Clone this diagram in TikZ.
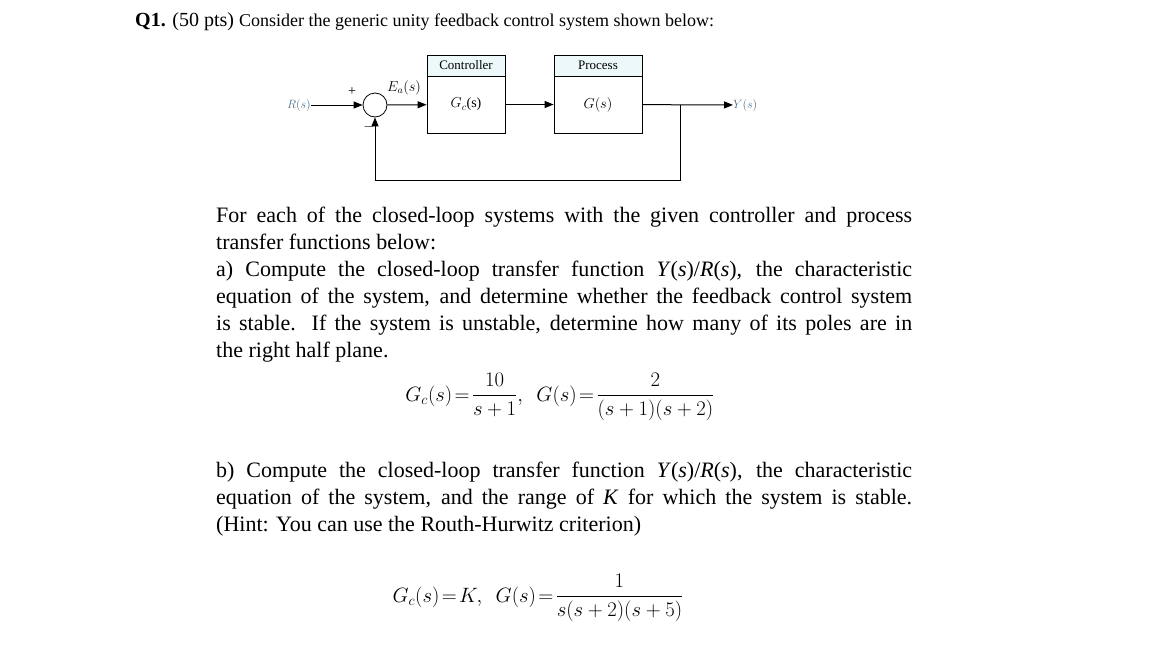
\documentclass[tikz,border=0pt]{standalone}
\usepackage{amsmath}
\usepackage{fontspec}
\setmainfont{Liberation Serif}
\usetikzlibrary{arrows.meta}
\definecolor{sig}{RGB}{70,110,140}
\definecolor{hdr}{RGB}{236,248,250}
\tikzset{
  every node/.style={inner sep=0pt},
  jline/.style={anchor=north west,text width=#1pt,align=justify,font=\fontsize{22}{26}\selectfont},
  pline/.style={anchor=north west,font=\fontsize{22}{26}\selectfont},
  wire/.style={line width=1pt},
  arr/.style={wire,-{Triangle[length=9pt,width=7pt]}},
  blk/.style={draw,line width=0.8pt},
  eq/.style={font=\fontsize{20}{24}\selectfont},
}
\newcommand{\jl}[1]{#1\parfillskip=0pt\par}
\begin{document}
\begin{tikzpicture}[x=1pt,y=-1pt]
\useasboundingbox (0,0) rectangle (1152,648);
\node[anchor=west] (title) at (135,22) {\fontsize{20}{24}\selectfont\textbf{Q1.} (50 pts) \fontsize{18}{20}\selectfont Consider the generic unity feedback control system shown below:};
\node[blk,fill=hdr,minimum width=78pt,minimum height=21pt] (ch) at (466,65.5) {\fontsize{13}{14}\selectfont Controller};
\node[blk,minimum width=78pt,minimum height=57pt] (cb) at (466,104.5) {\fontsize{14}{14}\selectfont $G_c$(s)};
\node[blk,fill=hdr,minimum width=88pt,minimum height=21pt] (ph) at (598,65.5) {\fontsize{13}{14}\selectfont Process};
\node[blk,minimum width=88pt,minimum height=57pt] (pb) at (598,104.5) {\fontsize{14}{14}\selectfont $G(s)$};
\node[draw,circle,line width=0.8pt,minimum size=24pt] (sum) at (375,105) {};
\node[text=sig,anchor=east] (R) at (311,105) {\fontsize{12}{13}\selectfont $R(s)$};
\node[text=sig,anchor=west] (Y) at (733,105) {\fontsize{12}{13}\selectfont $Y(s)$};
\node (plus) at (352,92) {\fontsize{14}{14}\selectfont +};
\node (minus) at (369,127) {\fontsize{14}{14}\selectfont $-$};
\node (ea) at (404,88) {\fontsize{14}{14}\selectfont $E_a(s)$};
\coordinate (br) at (680,105);
\coordinate (bl) at (680,180);
\coordinate (bb) at (375,180);
\draw[arr] (R) -- (sum);
\draw[arr] (sum) -- (cb);
\draw[arr] (cb) -- (pb);
\draw[arr] (pb) -- (Y);
\draw[wire] (br) -- (bl) -- (bb);
\draw[arr] (bb) -- (sum);
\node[jline=696] (t1) at (216,207) {\jl{For each of the closed-loop systems with the given controller and process}};
\node[pline] (t2) at (216,234) {transfer functions below:};
\node[jline=696] (a1) at (216,261) {\jl{a)\ Compute the closed-loop transfer function \textit{Y}(\textit{s})/\textit{R}(\textit{s}), the characteristic}};
\node[jline=696] (a2) at (216,288) {\jl{equation of the system, and determine whether the feedback control system}};
\node[jline=696] (a3) at (216,315) {\jl{is stable. If the system is unstable, determine how many of its poles are in}};
\node[pline] (a4) at (216,342) {the right half plane.};
\node[eq] (ea1) at (560,397) {$G_c(s)\!=\!\dfrac{10}{s+1},\ \ G(s)\!=\!\dfrac{2}{(s+1)(s+2)}$};
\node[jline=696] (b1) at (216,462) {\jl{b)\ Compute the closed-loop transfer function \textit{Y}(\textit{s})/\textit{R}(\textit{s}), the characteristic}};
\node[jline=696] (b2) at (216,489) {\jl{equation of the system, and the range of \textit{K} for which the system is stable.}};
\node[pline] (b3) at (216,516) {(Hint: You can use the Routh-Hurwitz criterion)};
\node[eq] (eb1) at (538,598) {$G_c(s)\!=\!K,\ \ G(s)\!=\!\dfrac{1}{s(s+2)(s+5)}$};
\end{tikzpicture}
\end{document}
